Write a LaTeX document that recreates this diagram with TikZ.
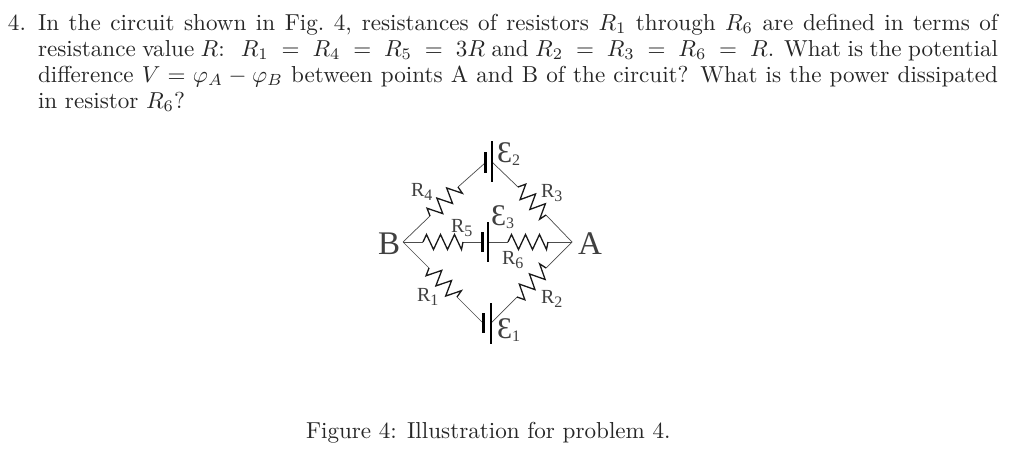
\documentclass[tikz,border=0pt]{standalone}
\usepackage{fontspec}
\usetikzlibrary{calc}
\newfontfamily\labfont{Liberation Serif}
\newcommand{\labR}[1]{{\fontsize{20}{20}\selectfont R\raisebox{-4pt}{\fontsize{16}{16}\selectfont #1}}}
\newcommand{\labE}[1]{{\fontsize{30}{30}\selectfont Ɛ\raisebox{-3pt}{\fontsize{16}{16}\selectfont #1}}}
\newcommand{\stline}[1]{\hbox to 415.6pt{#1}}
% zigzag of three cycles between two named coordinates; #3 is the side (1 or -1)
\newcommand{\resist}[3]{%
  \draw[res] (#1)
    -- ($(#1)!.0875!(#2)!#3*7.5pt!90:(#2)$)
    -- ($(#1)!.2625!(#2)!#3*-7.5pt!90:(#2)$)
    -- ($(#1)!.4375!(#2)!#3*7.5pt!90:(#2)$)
    -- ($(#1)!.6125!(#2)!#3*-7.5pt!90:(#2)$)
    -- ($(#1)!.7875!(#2)!#3*7.5pt!90:(#2)$)
    -- ($(#1)!.9625!(#2)!#3*-7.5pt!90:(#2)$)
    -- (#2);}
\tikzset{
  x=1pt,y=-1pt,
  txt/.style={anchor=base west,inner sep=0pt,outer sep=0pt,scale=2.31,text=black!85},
  lab/.style={anchor=base west,inner sep=0pt,outer sep=0pt,font=\labfont,text=black!75},
  biglab/.style={lab,font=\labfont\fontsize{33}{33}\selectfont},
  wire/.style={draw=black!70,line width=0.7pt},
  res/.style={draw=black!90,line width=1.3pt,line join=miter},
  shortplate/.style={draw=black,line width=3pt},
  longplate/.style={draw=black,line width=1.9pt}
}
\begin{document}
\begin{tikzpicture}
\useasboundingbox (0,0) rectangle (1024,466);
\fill[white] (0,0) rectangle (1024,466);
% text
\node[txt] (num) at (8,30) {4.};
\node[txt] (l1) at (38,30) {\stline{In the circuit shown in Fig.\ 4, resistances of resistors $R_1$ through $R_6$ are defined in terms of}};
\node[txt] (l2) at (38,56) {\stline{resistance value $R$: \ $R_1\ =\ R_4\ =\ R_5\ =\ 3R$ and $R_2\ =\ R_3\ =\ R_6\ =\ R$. What is the potential}};
\node[txt] (l3) at (38,82) {\stline{difference $V=\varphi_A-\varphi_B$ between points A and B of the circuit? What is the power dissipated}};
\node[txt] (l4) at (38,108) {in resistor $R_6$?};
\node[txt] (cap) at (306,438) {Figure 4: Illustration for problem 4.};
% junctions
\coordinate (B) at (403,242);
\coordinate (A) at (572,242);
% top battery
\coordinate (e2s) at (485,163);
\coordinate (e2l) at (492,162);
\coordinate (e2sa) at (485,152); \coordinate (e2sb) at (485,173);
\coordinate (e2la) at (492,141); \coordinate (e2lb) at (492,182);
% bottom battery
\coordinate (e1s) at (483,323);
\coordinate (e1l) at (491,323);
\coordinate (e1sa) at (483,313); \coordinate (e1sb) at (483,333);
\coordinate (e1la) at (491,303); \coordinate (e1lb) at (491,344);
% middle battery
\coordinate (e3s) at (482,242);
\coordinate (e3l) at (488,242);
\coordinate (e3sa) at (482,232); \coordinate (e3sb) at (482,252);
\coordinate (e3la) at (488,222); \coordinate (e3lb) at (488,262);
% resistor ends
\coordinate (r4a) at (430,216); \coordinate (r4b) at (458,187);
\coordinate (r3a) at (518,187); \coordinate (r3b) at (546,215);
\coordinate (r1a) at (429,268); \coordinate (r1b) at (457,297);
\coordinate (r2a) at (517,297); \coordinate (r2b) at (546,268);
\coordinate (r5a) at (423,242); \coordinate (r5b) at (463,242);
\coordinate (r6a) at (508,242); \coordinate (r6b) at (548,242);
% wires
\draw[wire] (B) -- (r4a); \draw[wire] (r4b) -- (e2s);
\draw[wire] (e2l) -- (r3a); \draw[wire] (r3b) -- (A);
\draw[wire] (B) -- (r1a); \draw[wire] (r1b) -- (e1s);
\draw[wire] (e1l) -- (r2a); \draw[wire] (r2b) -- (A);
\draw[wire] (B) -- (r5a); \draw[wire] (r5b) -- (e3s);
\draw[wire] (e3l) -- (r6a); \draw[wire] (r6b) -- (A);
% resistors
\resist{r4a}{r4b}{1}
\resist{r3a}{r3b}{1}
\resist{r1a}{r1b}{-1}
\resist{r2a}{r2b}{-1}
\resist{r5a}{r5b}{1}
\resist{r6a}{r6b}{1}
% plates
\draw[shortplate] (e2sa) -- (e2sb); \draw[longplate] (e2la) -- (e2lb);
\draw[shortplate] (e1sa) -- (e1sb); \draw[longplate] (e1la) -- (e1lb);
\draw[shortplate] (e3sa) -- (e3sb); \draw[longplate] (e3la) -- (e3lb);
% labels
\node[lab] (lR4) at (411,196) {\labR{4}};
\node[lab] (lR3) at (541,197) {\labR{3}};
\node[lab] (lR5) at (451,232) {\labR{5}};
\node[lab] (lR6) at (502,264) {\labR{6}};
\node[lab] (lR1) at (417,301) {\labR{1}};
\node[lab] (lR2) at (541,303) {\labR{2}};
\node[lab] (lE2) at (497,162) {\labE{2}};
\node[lab] (lE3) at (491,225) {\labE{3}};
\node[lab] (lE1) at (497,338) {\labE{1}};
\node[biglab] (lB) at (378,254) {B};
\node[biglab] (lA) at (578,254) {A};
\end{tikzpicture}
\end{document}
